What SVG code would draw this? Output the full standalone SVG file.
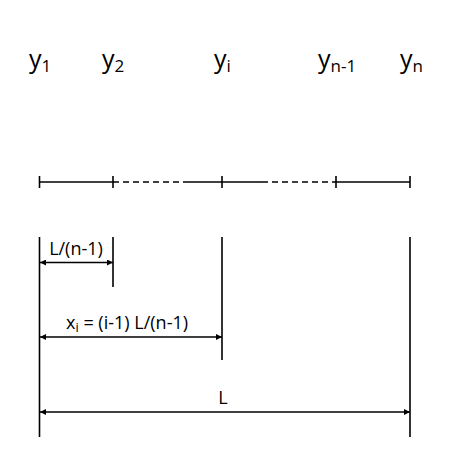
<svg xmlns="http://www.w3.org/2000/svg" width="474" height="474" viewBox="0 0 474 474">
<style>
.ln{stroke:#000;stroke-width:1.6;fill:none}
.dash{stroke:#000;stroke-width:1.6;fill:none;stroke-dasharray:6,4}
.t{font-family:"Open Sans","Liberation Sans",sans-serif;fill:#000}
.lab{font-size:25px}
.sub{font-size:17px}
.dim{font-size:18px}
</style>
<defs>
<marker id="ah" viewBox="0 0 10 10" refX="10" refY="5" markerWidth="6" markerHeight="6" orient="auto-start-reverse" markerUnits="userSpaceOnUse">
<path d="M0,0 L10,5 L0,10 z" fill="#000"/>
</marker>
</defs>
<g id="labels">
<text class="t lab" x="29" y="68">y<tspan class="sub" dy="4">1</tspan></text>
<text class="t lab" x="102" y="68">y<tspan class="sub" dy="4">2</tspan></text>
<text class="t lab" x="214" y="68">y<tspan class="sub" dy="4">i</tspan></text>
<text class="t lab" x="318" y="68">y<tspan class="sub" dy="4">n-1</tspan></text>
<text class="t lab" x="400" y="68">y<tspan class="sub" dy="4">n</tspan></text>
</g>
<g id="axis">
<line class="ln" x1="39.5" y1="182" x2="113" y2="182"/>
<line class="dash" x1="113" y1="182" x2="183" y2="182"/>
<line class="ln" x1="183" y1="182" x2="262" y2="182"/>
<line class="dash" x1="262" y1="182" x2="336" y2="182"/>
<line class="ln" x1="336" y1="182" x2="410" y2="182"/>
<line class="ln" x1="39.5" y1="176" x2="39.5" y2="188"/>
<line class="ln" x1="113" y1="176" x2="113" y2="188"/>
<line class="ln" x1="222" y1="176" x2="222" y2="188"/>
<line class="ln" x1="336" y1="176" x2="336" y2="188"/>
<line class="ln" x1="410" y1="176" x2="410" y2="188"/>
</g>
<g id="verticals">
<line class="ln" x1="39.5" y1="237" x2="39.5" y2="437"/>
<line class="ln" x1="113" y1="237" x2="113" y2="287"/>
<line class="ln" x1="222" y1="237" x2="222" y2="360"/>
<line class="ln" x1="410" y1="237" x2="410" y2="437"/>
</g>
<g id="connectors">
<line class="ln" x1="40" y1="262.5" x2="113" y2="262.5" marker-start="url(#ah)" marker-end="url(#ah)"/>
<line class="ln" x1="40" y1="337" x2="222" y2="337" marker-start="url(#ah)" marker-end="url(#ah)"/>
<line class="ln" x1="40" y1="412" x2="410" y2="412" marker-start="url(#ah)" marker-end="url(#ah)"/>
</g>
<g id="dim-labels">
<text class="t dim" x="76" y="255" text-anchor="middle">L/(n-1)</text>
<text class="t dim" x="66" y="329">x<tspan font-size="13" dy="3">i</tspan><tspan dy="-3"> = (i-1) L/(n-1)</tspan></text>
<text class="t dim" x="223" y="404" text-anchor="middle">L</text>
</g>
</svg>
